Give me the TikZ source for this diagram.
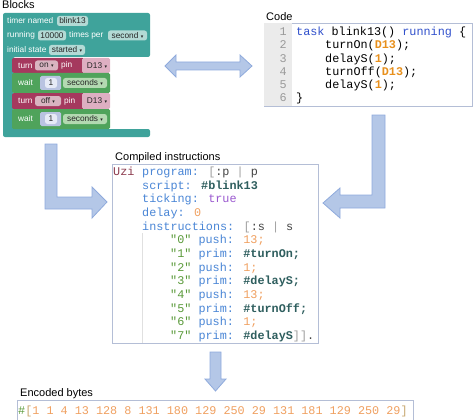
\documentclass[tikz,border=0pt]{standalone}
\usepackage{fontspec}
\setmainfont{Liberation Sans}
\newfontfamily\mono{Liberation Mono}
\newfontfamily\dv{DejaVu Sans}
\newcommand\tri{{\dv\fontsize{5}{5}\selectfont ▾}}
\definecolor{teal1}{HTML}{3FA39B}
\definecolor{tealpill}{HTML}{B3DAD5}
\definecolor{crim}{HTML}{A5395E}
\definecolor{crimpill}{HTML}{D9B4C1}
\definecolor{pinkblk}{HTML}{DEAFC2}
\definecolor{grn}{HTML}{4FA35B}
\definecolor{grnpill}{HTML}{B3D9B1}
\definecolor{numblk}{HTML}{B9C3E1}
\definecolor{numpill}{HTML}{E6EAF6}
\definecolor{afill}{HTML}{B4C7E7}
\definecolor{adraw}{HTML}{8FAADC}
\definecolor{boxline}{HTML}{B4BED6}
\definecolor{gutter}{HTML}{EBEBEB}
\definecolor{lnum}{HTML}{9A9A9A}
\definecolor{kw}{HTML}{3050CC}
\definecolor{dorange}{HTML}{E8901C}
\definecolor{uzi}{HTML}{8C3B4E}
\definecolor{cblue}{HTML}{4A86D6}
\definecolor{sym}{HTML}{2E5E5E}
\definecolor{purp}{HTML}{9B59D0}
\definecolor{numo}{HTML}{F0A060}
\definecolor{strg}{HTML}{5A9A3A}
\definecolor{brk}{HTML}{A0A0A0}
\definecolor{brk2}{HTML}{C8A870}
\definecolor{dtext}{HTML}{444444}
\begin{document}
\begin{tikzpicture}[x=1pt,y=-1pt,
  lbl/.style={anchor=base west, inner sep=0, font=\fontsize{11}{13}\selectfont},
  btxt/.style={anchor=west, inner sep=0, text=white, font=\fontsize{8.3}{10}\selectfont},
  pill/.style={rounded corners=2.5, inner sep=0, minimum height=10, text=black!85, font=\fontsize{8.3}{10}\selectfont},
  mono/.style={anchor=base west, inner sep=0, font=\mono\fontsize{11.8}{13}\selectfont},
  lnr/.style={anchor=base east, inner sep=0, text=lnum, font=\mono\fontsize{11.8}{13}\selectfont},
  barrow/.style={fill=afill, draw=adraw, line width=0.8},
  frame/.style={draw=boxline, line width=0.8, fill=white}]
\useasboundingbox (0,0) rectangle (474,420);

% ---------- labels ----------
\node[lbl] (lblocks) at (2,8.5) {Blocks};
\node[lbl] (lcode) at (266,20.5) {Code};
\node[lbl] (lcomp) at (115,160) {Compiled instructions};
\node[lbl] (lenc) at (20,396) {Encoded bytes};

% ---------- blocks ----------
\fill[teal1, rounded corners=2] (3,13) -- (150,13) -- (150,57) -- (13,57) -- (13,129) -- (150,129) -- (150,137) -- (3,137) -- cycle;
\node[btxt] (t1) at (7,21) {timer named};
\node[pill, fill=tealpill, minimum width=31] (p1) at (72.5,21) {blink13};
\node[btxt] (t2) at (7,35.5) {running};
\node[pill, fill=tealpill, minimum width=28] (p2) at (52,35.5) {10000};
\node[btxt] (t3) at (69,35.5) {times per};
\node[pill, fill=tealpill, minimum width=39] (p3) at (127.5,35.5) {second \tri};
\node[btxt] (t4) at (7,50) {initial state};
\node[pill, fill=tealpill, minimum width=36] (p4) at (67,50) {started \tri};

% turn on
\fill[crim, rounded corners=1.5] (12,58) rectangle (84,73);
\fill[pinkblk, rounded corners=1.5] (82,58) rectangle (110,73);
\node[btxt] (t5) at (18,65.5) {turn};
\node[pill, fill=crimpill, minimum width=23] (p5) at (46.5,65.5) {on \tri};
\node[btxt] (t6) at (61,65.5) {pin};
\node[pill, fill=pinkblk, minimum width=24] (p6) at (97,65.5) {D13 \tri};
% wait
\fill[grn, rounded corners=1.5] (12,73) rectangle (110,93);
\node[btxt] (t7) at (18,83) {wait};
\fill[numblk, rounded corners=1.5] (40,76) rectangle (61,90);
\node[pill, fill=numpill, minimum width=12, minimum height=10] (p7) at (51,83) {1};
\node[pill, fill=grnpill, minimum width=44] (p8) at (85,83) {seconds \tri};
% turn off
\fill[crim, rounded corners=1.5] (12,93) rectangle (84,109);
\fill[pinkblk, rounded corners=1.5] (82,93) rectangle (110,109);
\node[btxt] (t8) at (18,101) {turn};
\node[pill, fill=crimpill, minimum width=26] (p9) at (48,101) {off \tri};
\node[btxt] (t9) at (64,101) {pin};
\node[pill, fill=pinkblk, minimum width=24] (p10) at (97,101) {D13 \tri};
% wait
\fill[grn, rounded corners=1.5] (12,109) rectangle (110,129);
\node[btxt] (t10) at (18,119) {wait};
\fill[numblk, rounded corners=1.5] (40,112) rectangle (61,126);
\node[pill, fill=numpill, minimum width=12, minimum height=10] (p11) at (51,119) {1};
\node[pill, fill=grnpill, minimum width=44] (p12) at (85,119) {seconds \tri};

% ---------- code box ----------
\draw[frame] (264,23) rectangle (472,106);
\fill[gutter] (264.4,23.4) rectangle (292,105.6);
\foreach \i/\y in {1/35.7,2/48.9,3/62.1,4/75.3,5/88.5,6/101.7}
  \node[lnr] (n\i) at (287,\y) {\i};
\node[mono] (c1) at (296,35.7) {\textcolor{kw}{task} blink13() \textcolor{kw}{running} \{};
\node[mono] (c2) at (325,48.9) {turnOn(\textbf{\textcolor{dorange}{D13}});};
\node[mono] (c3) at (325,62.1) {delayS(\textbf{\textcolor{dorange}{1}});};
\node[mono] (c4) at (325,75.3) {turnOff(\textbf{\textcolor{dorange}{D13}});};
\node[mono] (c5) at (325,88.5) {delayS(\textbf{\textcolor{dorange}{1}});};
\node[mono] (c6) at (296,101.7) {\}};

% ---------- compiled box ----------
\draw[frame] (112,164) rectangle (318,343);
\draw[black!12, line width=0.6] (142,233) -- (142,342.5);
\node[mono] (u0) at (113,175.5) {\textcolor{uzi}{Uzi}};
\node[mono] (u1) at (142,175.5) {\textcolor{cblue}{program:} \textcolor{brk}{[}\textcolor{dtext}{:p} \textcolor{brk}{|} \textcolor{dtext}{p}};
\node[mono] (u2) at (142,189.2) {\textcolor{cblue}{script:} \textbf{\textcolor{sym}{\#blink13}}};
\node[mono] (u3) at (142,202.8) {\textcolor{cblue}{ticking:} \textcolor{purp}{true}};
\node[mono] (u4) at (142,216.5) {\textcolor{cblue}{delay:} \textcolor{numo}{0}};
\node[mono] (u5) at (142,230.2) {\textcolor{cblue}{instructions:} \textcolor{brk}{[}\textcolor{dtext}{:s} \textcolor{brk}{|} \textcolor{dtext}{s}};
\node[mono] (u6) at (170,243.9) {\textcolor{strg}{"0"} \textcolor{cblue}{push:} \textcolor{numo}{13;}};
\node[mono] (u7) at (170,257.5) {\textcolor{strg}{"1"} \textcolor{cblue}{prim:} \textbf{\textcolor{sym}{\#turnOn;}}};
\node[mono] (u8) at (170,271.2) {\textcolor{strg}{"2"} \textcolor{cblue}{push:} \textcolor{numo}{1;}};
\node[mono] (u9) at (170,284.9) {\textcolor{strg}{"3"} \textcolor{cblue}{prim:} \textbf{\textcolor{sym}{\#delayS;}}};
\node[mono] (u10) at (170,298.5) {\textcolor{strg}{"4"} \textcolor{cblue}{push:} \textcolor{numo}{13;}};
\node[mono] (u11) at (170,312.2) {\textcolor{strg}{"5"} \textcolor{cblue}{prim:} \textbf{\textcolor{sym}{\#turnOff;}}};
\node[mono] (u12) at (170,325.9) {\textcolor{strg}{"6"} \textcolor{cblue}{push:} \textcolor{numo}{1;}};
\node[mono] (u13) at (170,339.5) {\textcolor{strg}{"7"} \textcolor{cblue}{prim:} \textbf{\textcolor{sym}{\#delayS}}\textcolor{brk}{]]}\textcolor{dtext}{.}};

% ---------- encoded box ----------
\draw[frame] (17,400) rectangle (413,421);
\node[mono] (e1) at (18,414) {\textcolor{strg}{\#}\textcolor{brk2}{[}\textcolor{numo}{1 1 4 13 128 8 131 180 129 250 29 131 181 129 250 29}\textcolor{brk2}{]}};

% ---------- arrows ----------
\draw[barrow] (165,66) -- (176,55) -- (176,62) -- (240,62) -- (240,55) -- (252,66) -- (240,77) -- (240,70) -- (176,70) -- (176,77) -- cycle;
\draw[barrow] (372,115) -- (385,115) -- (385,208) -- (340,208) -- (340,218) -- (323,203) -- (340,188) -- (340,195) -- (372,195) -- cycle;
\draw[barrow] (45,144) -- (57,144) -- (57,197) -- (92,197) -- (92,187) -- (107,202) -- (92,218) -- (92,209) -- (45,209) -- cycle;
\draw[barrow] (210,352) -- (221,352) -- (221,379) -- (226,379) -- (215.5,391) -- (205,379) -- (210,379) -- cycle;
\end{tikzpicture}
\end{document}
